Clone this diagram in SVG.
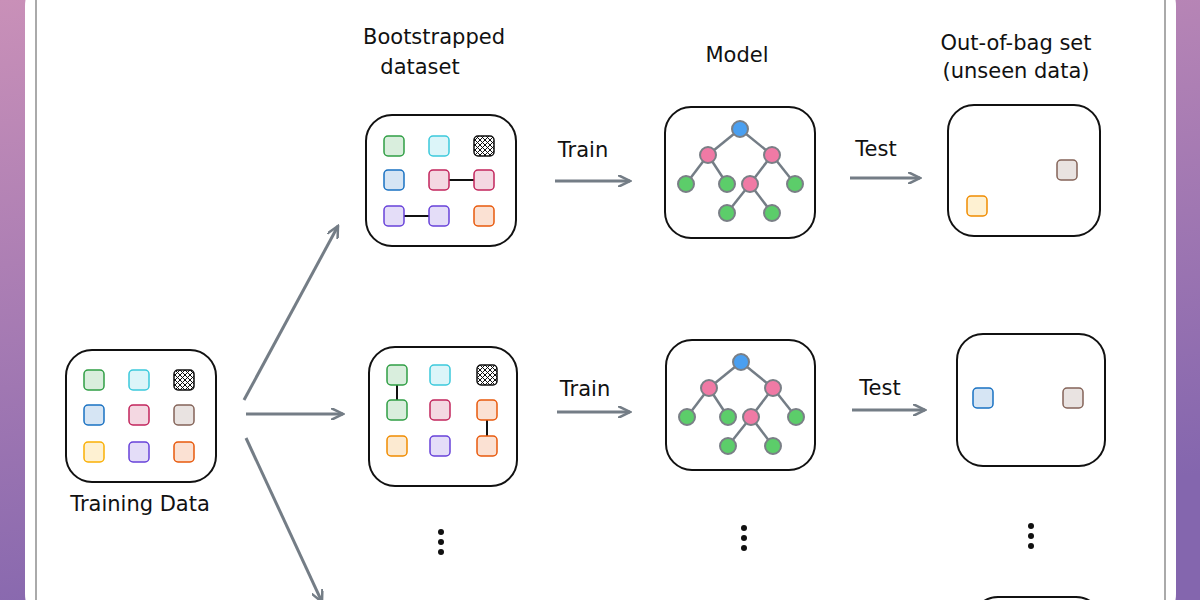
<svg xmlns="http://www.w3.org/2000/svg" width="1200" height="600" viewBox="0 0 1200 600">
<defs>
<linearGradient id="bg" x1="0" y1="0" x2="0.3" y2="1"><stop offset="0" stop-color="#c990b8"/><stop offset="1" stop-color="#8466ae"/></linearGradient>
<pattern id="xh" width="5" height="5" patternUnits="userSpaceOnUse"><path d="M0 0L5 5M5 0L0 5" stroke="#111" stroke-width="1"/></pattern>
<marker id="ah" markerWidth="14" markerHeight="12" refX="12" refY="6" orient="auto" markerUnits="userSpaceOnUse"><path d="M0 0L12 6L0 12" fill="none" stroke="#747d86" stroke-width="2.5"/></marker>
<style>
.box{fill:#fff;stroke:#111;stroke-width:2}
.t{font-family:"DejaVu Sans",sans-serif;font-size:21px;fill:#111;text-anchor:middle}
.sq{stroke-width:1.5;fill-opacity:0.18}
.ar{stroke:#747d86;stroke-width:3;fill:none;marker-end:url(#ah)}
.e{stroke:#747d86;stroke-width:2.5}
.g{fill:#5ccd6a;stroke:#7a7f86;stroke-width:2}
.p{fill:#f07aa5;stroke:#7a7f86;stroke-width:2}
.b{fill:#4a9ff0;stroke:#7a7f86;stroke-width:2}
.ln{stroke:#111;stroke-width:2}
</style>
</defs>
<rect width="1200" height="600" fill="url(#bg)"/>
<rect x="25" y="-30" width="1151" height="660" rx="36" fill="#fff"/>
<rect x="36" y="-30" width="1129" height="660" rx="30" fill="#fff" stroke="#aaa" stroke-width="2"/>
<g id="connectors">
<path class="ar" d="M244 400L338 226"/>
<path class="ar" d="M246 414L343 414"/>
<path class="ar" d="M246 438L322 602"/>
<path class="ar" d="M555 181L630 181"/>
<path class="ar" d="M850 178L920 178"/>
<path class="ar" d="M557 412L630 412"/>
<path class="ar" d="M852 410L925 410"/>
</g>
<g id="labels">
<text class="t" x="434" y="44">Bootstrapped</text>
<text class="t" x="420" y="74">dataset</text>
<text class="t" x="737" y="62">Model</text>
<text class="t" x="1016" y="50">Out-of-bag set</text>
<text class="t" x="1016" y="78">(unseen data)</text>
<text class="t" x="583" y="157">Train</text>
<text class="t" x="876" y="156">Test</text>
<text class="t" x="585" y="396">Train</text>
<text class="t" x="880" y="395">Test</text>
</g>
<g id="training">
<rect class="box" x="66" y="350" width="150" height="132" rx="26"/>
<rect class="sq" x="84" y="370" width="20" height="20" rx="4" fill="#2f9e44" stroke="#2f9e44"/>
<rect class="sq" x="129" y="370" width="20" height="20" rx="4" fill="#3bc9db" stroke="#3bc9db"/>
<rect x="174" y="370" width="20" height="20" rx="4" fill="url(#xh)" stroke="#111" stroke-width="1.5"/>
<rect class="sq" x="84" y="405" width="20" height="20" rx="4" fill="#1971c2" stroke="#1971c2"/>
<rect class="sq" x="129" y="405" width="20" height="20" rx="4" fill="#c2255c" stroke="#c2255c"/>
<rect class="sq" x="174" y="405" width="20" height="20" rx="4" fill="#846358" stroke="#846358"/>
<rect class="sq" x="84" y="442" width="20" height="20" rx="4" fill="#fab005" stroke="#fab005"/>
<rect class="sq" x="129" y="442" width="20" height="20" rx="4" fill="#6741d9" stroke="#6741d9"/>
<rect class="sq" x="174" y="442" width="20" height="20" rx="4" fill="#e8590c" stroke="#e8590c"/>
<text class="t" x="140" y="511">Training Data</text>
</g>
<g id="dataset1">
<rect class="box" x="366" y="115" width="150" height="131" rx="26"/>
<line class="ln" x1="449" y1="180" x2="474" y2="180"/>
<line class="ln" x1="404" y1="216" x2="429" y2="216"/>
<rect class="sq" x="384" y="136" width="20" height="20" rx="4" fill="#2f9e44" stroke="#2f9e44"/>
<rect class="sq" x="429" y="136" width="20" height="20" rx="4" fill="#3bc9db" stroke="#3bc9db"/>
<rect x="474" y="136" width="20" height="20" rx="4" fill="url(#xh)" stroke="#111" stroke-width="1.5"/>
<rect class="sq" x="384" y="170" width="20" height="20" rx="4" fill="#1971c2" stroke="#1971c2"/>
<rect class="sq" x="429" y="170" width="20" height="20" rx="4" fill="#c2255c" stroke="#c2255c"/>
<rect class="sq" x="474" y="170" width="20" height="20" rx="4" fill="#c2255c" stroke="#c2255c"/>
<rect class="sq" x="384" y="206" width="20" height="20" rx="4" fill="#6741d9" stroke="#6741d9"/>
<rect class="sq" x="429" y="206" width="20" height="20" rx="4" fill="#6741d9" stroke="#6741d9"/>
<rect class="sq" x="474" y="206" width="20" height="20" rx="4" fill="#e8590c" stroke="#e8590c"/>
</g>
<g id="dataset2">
<rect class="box" x="369" y="347" width="148" height="139" rx="26"/>
<line class="ln" x1="397" y1="385" x2="397" y2="400"/>
<line class="ln" x1="487" y1="420" x2="487" y2="436"/>
<rect class="sq" x="387" y="365" width="20" height="20" rx="4" fill="#2f9e44" stroke="#2f9e44"/>
<rect class="sq" x="430" y="365" width="20" height="20" rx="4" fill="#3bc9db" stroke="#3bc9db"/>
<rect x="477" y="365" width="20" height="20" rx="4" fill="url(#xh)" stroke="#111" stroke-width="1.5"/>
<rect class="sq" x="387" y="400" width="20" height="20" rx="4" fill="#2f9e44" stroke="#2f9e44"/>
<rect class="sq" x="430" y="400" width="20" height="20" rx="4" fill="#c2255c" stroke="#c2255c"/>
<rect class="sq" x="477" y="400" width="20" height="20" rx="4" fill="#e8590c" stroke="#e8590c"/>
<rect class="sq" x="387" y="436" width="20" height="20" rx="4" fill="#f08c00" stroke="#f08c00"/>
<rect class="sq" x="430" y="436" width="20" height="20" rx="4" fill="#6741d9" stroke="#6741d9"/>
<rect class="sq" x="477" y="436" width="20" height="20" rx="4" fill="#e8590c" stroke="#e8590c"/>
</g>
<g id="tree1">
<rect class="box" x="665" y="107" width="150" height="131" rx="26"/>
<g class="e"><line x1="740" y1="129" x2="708" y2="155"/><line x1="740" y1="129" x2="772" y2="155"/><line x1="708" y1="155" x2="686" y2="184"/><line x1="708" y1="155" x2="727" y2="184"/><line x1="772" y1="155" x2="750" y2="184"/><line x1="772" y1="155" x2="795" y2="184"/><line x1="750" y1="184" x2="727" y2="213"/><line x1="750" y1="184" x2="772" y2="213"/></g>
<circle class="b" cx="740" cy="129" r="8"/><circle class="p" cx="708" cy="155" r="8"/><circle class="p" cx="772" cy="155" r="8"/><circle class="g" cx="686" cy="184" r="8"/><circle class="g" cx="727" cy="184" r="8"/><circle class="p" cx="750" cy="184" r="8"/><circle class="g" cx="795" cy="184" r="8"/><circle class="g" cx="727" cy="213" r="8"/><circle class="g" cx="772" cy="213" r="8"/>
</g>
<g id="tree2" transform="translate(1 233)">
<rect class="box" x="665" y="107" width="149" height="130" rx="26"/>
<g class="e"><line x1="740" y1="129" x2="708" y2="155"/><line x1="740" y1="129" x2="772" y2="155"/><line x1="708" y1="155" x2="686" y2="184"/><line x1="708" y1="155" x2="727" y2="184"/><line x1="772" y1="155" x2="750" y2="184"/><line x1="772" y1="155" x2="795" y2="184"/><line x1="750" y1="184" x2="727" y2="213"/><line x1="750" y1="184" x2="772" y2="213"/></g>
<circle class="b" cx="740" cy="129" r="8"/><circle class="p" cx="708" cy="155" r="8"/><circle class="p" cx="772" cy="155" r="8"/><circle class="g" cx="686" cy="184" r="8"/><circle class="g" cx="727" cy="184" r="8"/><circle class="p" cx="750" cy="184" r="8"/><circle class="g" cx="795" cy="184" r="8"/><circle class="g" cx="727" cy="213" r="8"/><circle class="g" cx="772" cy="213" r="8"/>
</g>
<g id="oob1">
<rect class="box" x="948" y="105" width="152" height="131" rx="26"/>
<rect class="sq" x="967" y="196" width="20" height="20" rx="4" fill="#fab005" stroke="#f08c00"/>
<rect class="sq" x="1057" y="160" width="20" height="20" rx="4" fill="#846358" stroke="#846358"/>
</g>
<g id="oob2">
<rect class="box" x="957" y="334" width="148" height="132" rx="26"/>
<rect class="sq" x="973" y="388" width="20" height="20" rx="4" fill="#1971c2" stroke="#1971c2"/>
<rect class="sq" x="1063" y="388" width="20" height="20" rx="4" fill="#846358" stroke="#846358"/>
</g>
<g id="oob3"><rect class="box" x="972" y="597" width="130" height="60" rx="26"/></g>
<g id="dots" fill="#111">
<circle cx="441" cy="532" r="3"/><circle cx="441" cy="542" r="3"/><circle cx="441" cy="552" r="3"/>
<circle cx="744" cy="528" r="3"/><circle cx="744" cy="538" r="3"/><circle cx="744" cy="548" r="3"/>
<circle cx="1031" cy="526" r="3"/><circle cx="1031" cy="536" r="3"/><circle cx="1031" cy="546" r="3"/>
</g>
</svg>
